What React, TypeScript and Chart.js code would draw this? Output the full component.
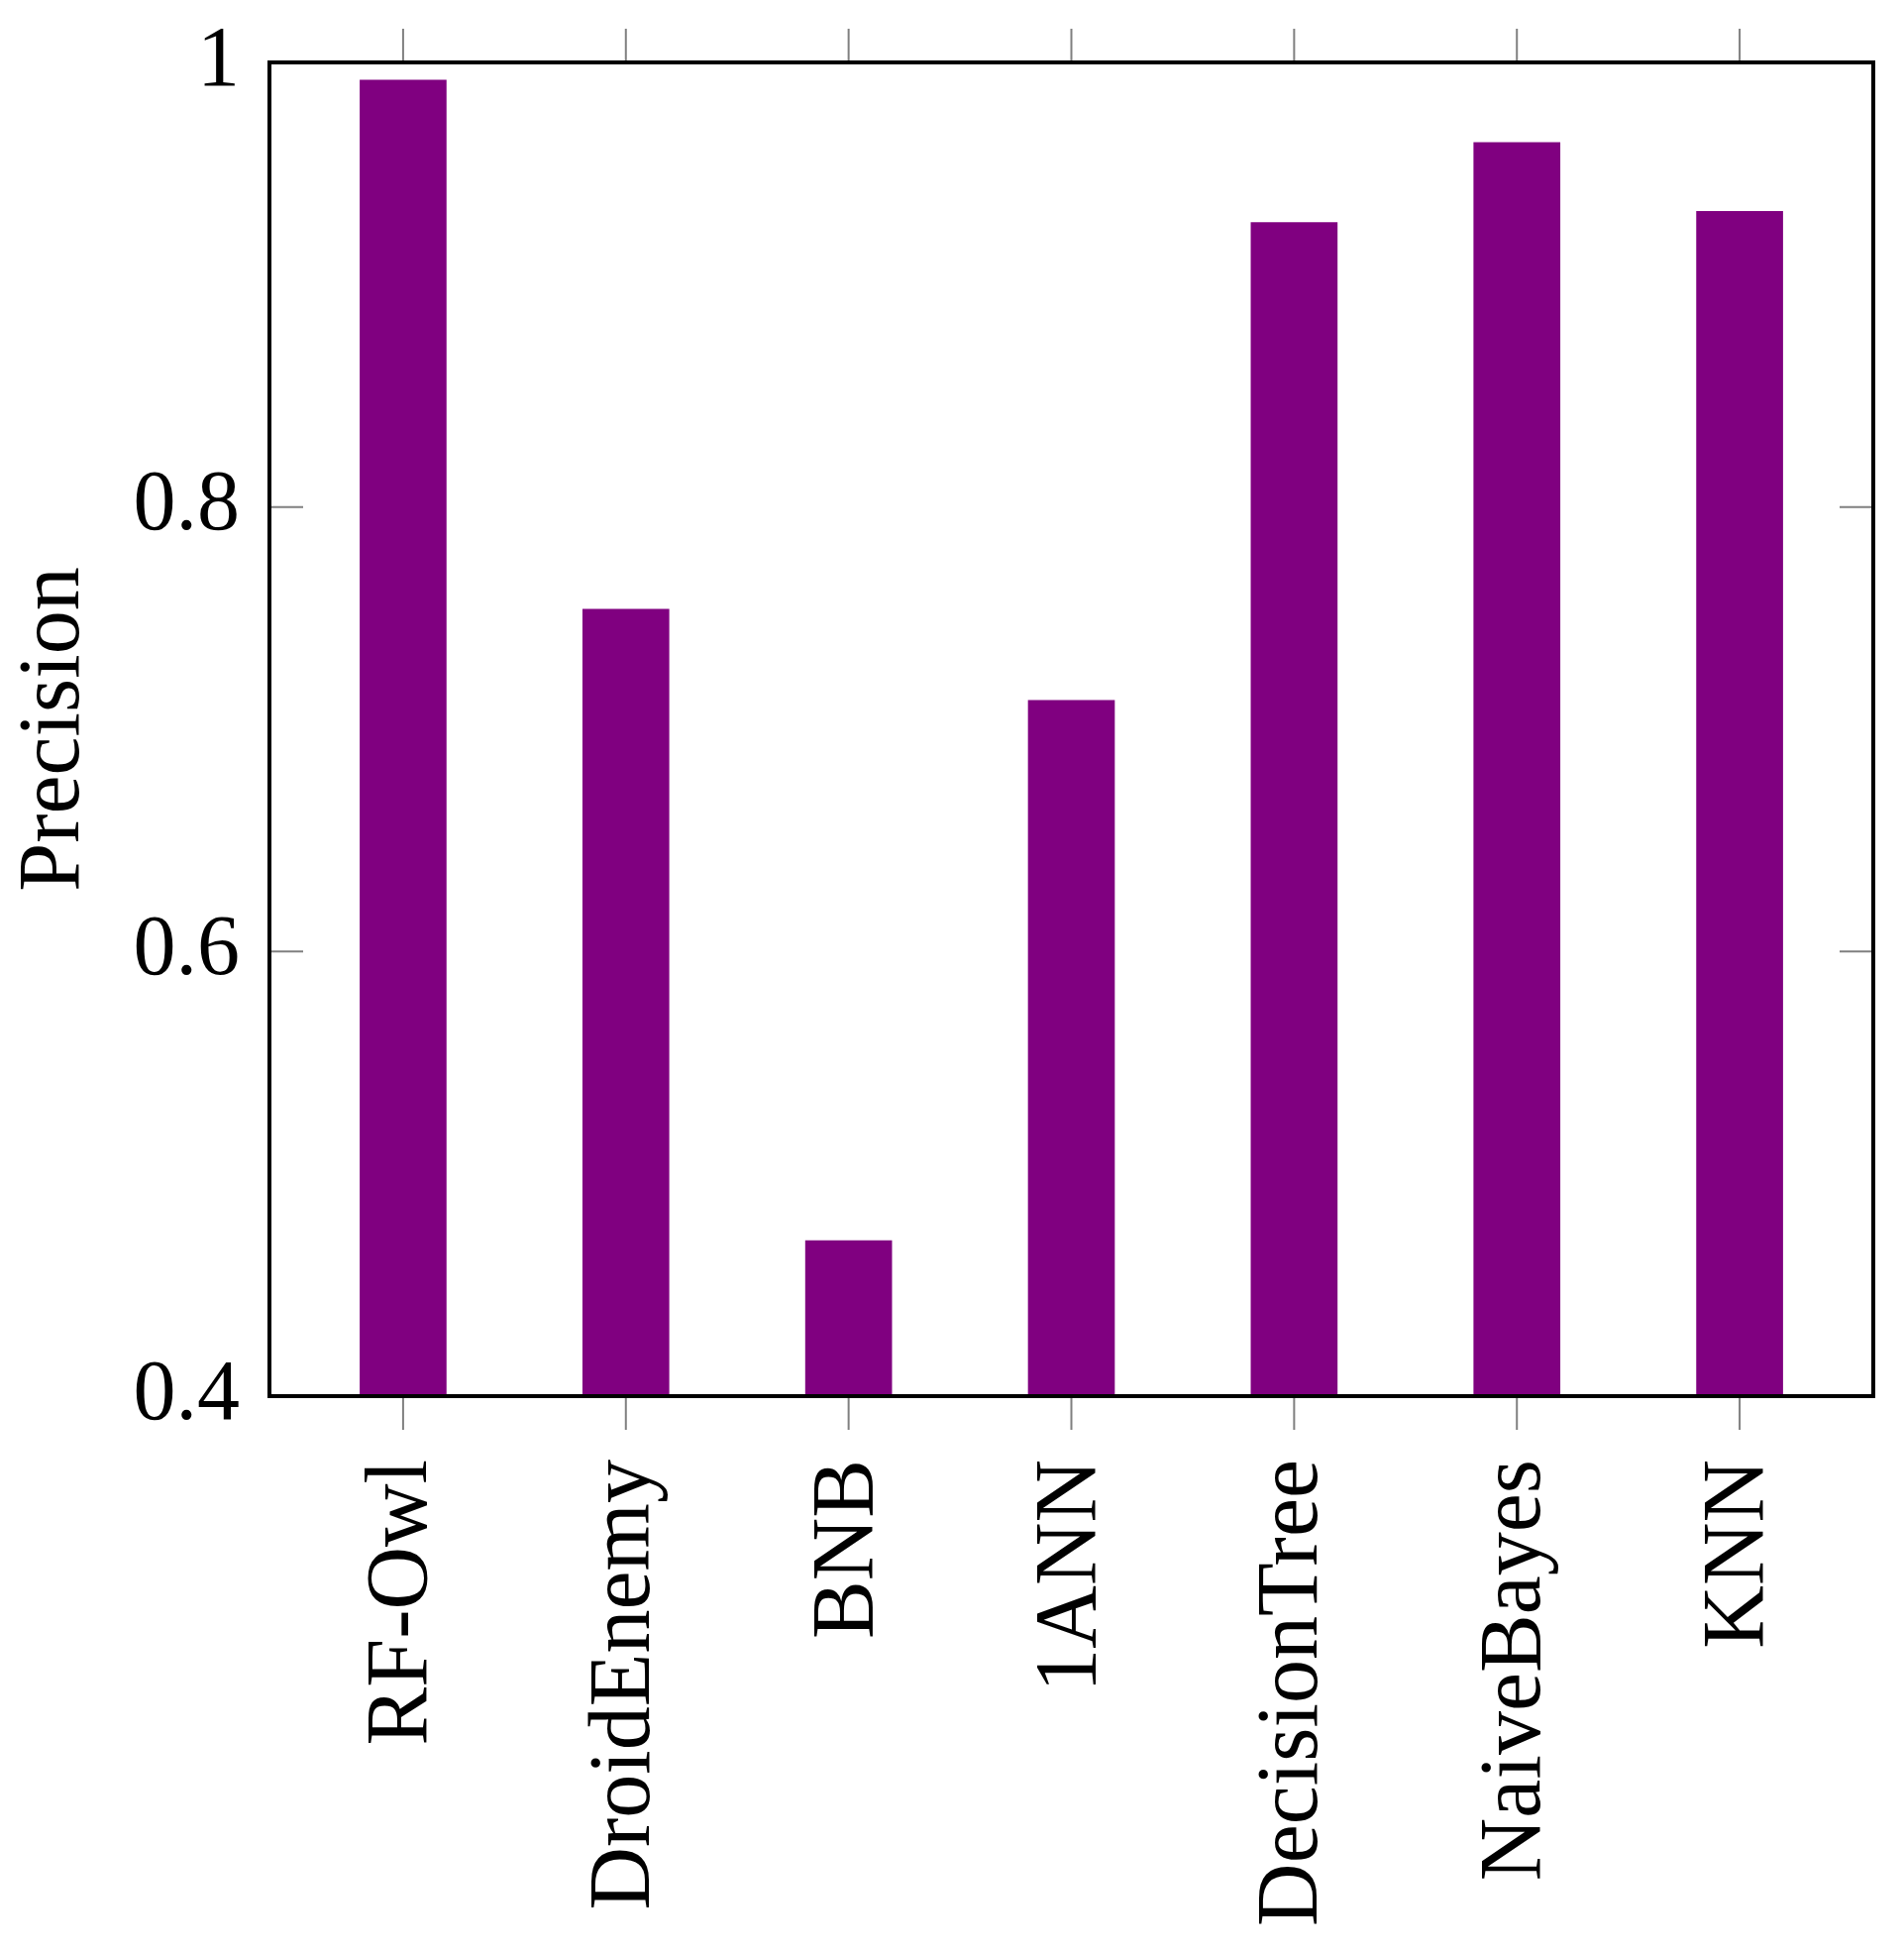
import React, { useEffect, useRef } from "react";
import { Chart, registerables } from "chart.js";

Chart.register(...registerables);

const CATEGORIES = ["RF-Owl", "DroidEnemy", "BNB", "1ANN", "DecisionTree", "NaiveBayes", "KNN"];
const PRECISION = [0.992, 0.754, 0.47, 0.713, 0.928, 0.964, 0.933];
const Y_TICKS = [0.4, 0.6, 0.8, 1];

const FONT = "'Liberation Serif', 'Times New Roman', serif";

const framePlugin = {
  id: "frame",
  afterDraw(chart: any) {
    const { ctx, chartArea } = chart;
    const xs = chart.scales.x;
    const ys = chart.scales.y;
    const L = 34;
    ctx.save();
    ctx.strokeStyle = "#808080";
    ctx.lineWidth = 2;
    ctx.beginPath();
    CATEGORIES.forEach((_, i) => {
      const px = xs.getPixelForValue(i);
      ctx.moveTo(px, chartArea.top - L);
      ctx.lineTo(px, chartArea.top);
      ctx.moveTo(px, chartArea.bottom);
      ctx.lineTo(px, chartArea.bottom + L);
    });
    Y_TICKS.forEach((v) => {
      const py = ys.getPixelForValue(v);
      ctx.moveTo(chartArea.left, py);
      ctx.lineTo(chartArea.left + L, py);
      ctx.moveTo(chartArea.right - L, py);
      ctx.lineTo(chartArea.right, py);
    });
    ctx.stroke();
    ctx.strokeStyle = "#000000";
    ctx.lineWidth = 4;
    ctx.strokeRect(
      chartArea.left,
      chartArea.top,
      chartArea.right - chartArea.left,
      chartArea.bottom - chartArea.top
    );
    ctx.restore();
  },
};

export default function App() {
  const ref = useRef<HTMLCanvasElement | null>(null);

  useEffect(() => {
    document.body.style.margin = "0";
    const canvas = ref.current;
    if (!canvas) return;
    const chart = new Chart(canvas, {
      type: "bar",
      data: {
        datasets: [
          {
            label: "Precision",
            data: PRECISION.map((v, i) => ({ x: i, y: v })),
            backgroundColor: "#800080",
            borderWidth: 0,
            barThickness: 87,
            base: 0.4,
          } as any,
        ],
      },
      plugins: [framePlugin],
      options: {
        animation: false,
        responsive: false,
        devicePixelRatio: 1,
        layout: { padding: { top: 63, right: 31, bottom: 0, left: 0 } },
        plugins: {
          legend: { display: false },
          tooltip: { enabled: false },
        },
        scales: {
          x: {
            type: "linear",
            offset: false,
            min: -0.6,
            max: 6.6,
            grid: { display: false, drawTicks: false, offset: false },
            border: { display: false },
            afterBuildTicks: (scale: any) => {
              scale.ticks = CATEGORIES.map((_, i) => ({ value: i }));
            },
            afterFit: (scale: any) => {
              scale.height = 562;
              scale.paddingLeft = 0;
              scale.paddingRight = 0;
            },
            ticks: {
              autoSkip: false,
              maxRotation: 90,
              minRotation: 90,
              padding: 64,
              color: "#000000",
              font: { family: FONT, size: 88 },
              callback: (v: any) => CATEGORIES[Math.round(Number(v))] ?? "",
            },
          },
          y: {
            min: 0.4,
            max: 1,
            grid: { display: false, drawTicks: false },
            border: { display: false },
            afterBuildTicks: (scale: any) => {
              scale.ticks = Y_TICKS.map((v) => ({ value: v }));
            },
            afterFit: (scale: any) => {
              scale.width = 272;
              scale.paddingTop = 0;
              scale.paddingBottom = 0;
            },
            ticks: {
              padding: 30,
              color: "#000000",
              font: { family: FONT, size: 86 },
              callback: (v: any) => String(Number(Number(v).toFixed(2))),
            },
            title: {
              display: true,
              text: "Precision",
              color: "#000000",
              font: { family: FONT, size: 88 },
              padding: { top: 3, bottom: 0 },
            },
          },
        },
      } as any,
    });
    return () => chart.destroy();
  }, []);

  return (
    <div style={{ width: 1922, height: 1971, background: "#ffffff" }}>
      <canvas ref={ref} width={1922} height={1971} style={{ display: "block" }} />
    </div>
  );
}
